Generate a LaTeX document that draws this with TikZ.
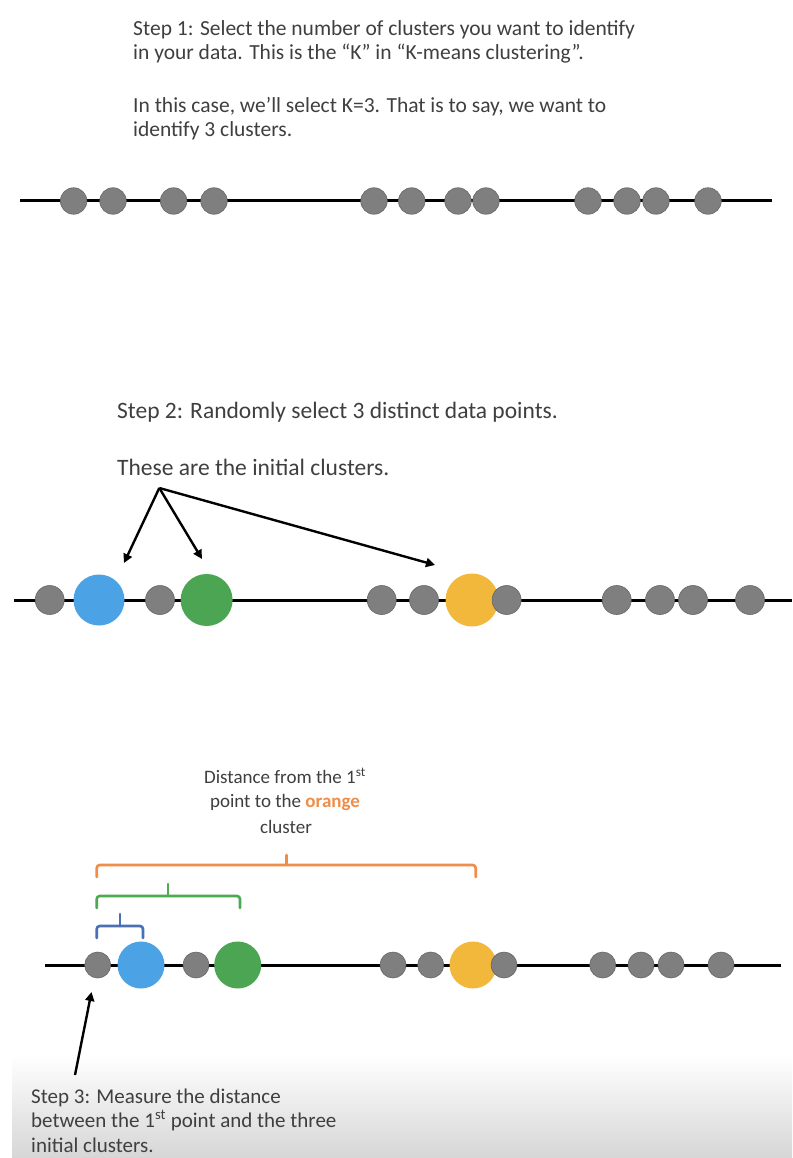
\documentclass[tikz,border=0pt]{standalone}
\usepackage{fontspec}
\setmainfont{Carlito}
\usetikzlibrary{arrows.meta}
\definecolor{txt}{HTML}{3F3F3F}
\definecolor{ptgray}{HTML}{7F7F7F}
\definecolor{ptedge}{HTML}{666666}
\definecolor{cblue}{HTML}{4BA2E4}
\definecolor{cgreen}{HTML}{4BA552}
\definecolor{corange}{HTML}{F2B83C}
\definecolor{borange}{HTML}{EE8E4A}
\definecolor{bgreen}{HTML}{4CAA52}
\definecolor{bblue}{HTML}{4A6FB3}
\definecolor{lbl}{HTML}{EE8E4A}
\definecolor{shadebot}{HTML}{D6D6D6}
\tikzset{
  axis/.style={line width=3pt, black},
  pt/.style={circle, fill=ptgray, draw=ptedge, line width=0.6pt, inner sep=0pt, minimum size=#1},
  pt/.default=26pt,
  clu/.style={circle, fill=#1, draw=none, inner sep=0pt},
  txtnode/.style={anchor=base west, inner sep=0pt, text=txt, font=\fontsize{#1}{22}\selectfont},
  ctrnode/.style={anchor=base, inner sep=0pt, text=txt, font=\fontsize{19}{22}\selectfont},
  arr/.style={line width=2.4pt, black, -{Triangle[length=9pt,width=9pt]}},
  brk/.style={line width=2.6pt, rounded corners=3pt, line cap=round}
}
\begin{document}
\begin{tikzpicture}[x=1pt,y=-1pt]
\useasboundingbox (0,0) rectangle (792,1158);
\fill[white] (0,0) rectangle (792,1158);
\shade[top color=white, bottom color=shadebot] (12,1055) rectangle (792,1158);

% ---------- Step 1 ----------
\node[txtnode=21.5] (s1a) at (133,36) {Step 1: Select the number of clusters you want to identify};
\node[txtnode=21.5] (s1b) at (133,60) {in your data. This is the “K” in “K-means clustering”.};
\node[txtnode=21.5] (s1c) at (133,113) {In this case, we’ll select K=3. That is to say, we want to};
\node[txtnode=21.5] (s1d) at (133,137) {identify 3 clusters.};

\coordinate (L1a) at (20,201);
\coordinate (L1b) at (772,201);
\draw[axis] (L1a) -- (L1b);
\foreach \i/\x in {1/73.6,2/113,3/173.6,4/214,5/374,6/411.7,7/458,8/486,9/588,10/627,11/656,12/708}
  \node[pt=26.5pt] (a\i) at (\x,201) {};

% ---------- Step 2 ----------
\node[txtnode=23.5] (s2a) at (117,418) {Step 2: Randomly select 3 distinct data points.};
\node[txtnode=23.5] (s2b) at (117,475) {These are the initial clusters.};

\coordinate (L2a) at (14,600);
\coordinate (L2b) at (792,600);
\draw[axis] (L2a) -- (L2b);
\node[clu=cblue, minimum size=51pt] (bB) at (99,600) {};
\node[clu=cgreen, minimum size=52pt] (bG) at (206.6,600) {};
\node[clu=corange, minimum size=53pt] (bO) at (472,600) {};
\foreach \i/\x in {1/49.7,2/160,3/381.7,4/424,5/506.6,6/616.7,7/660,8/693,9/750}
  \node[pt=29pt] (b\i) at (\x,600) {};

\coordinate (src) at (159.3,488);
\coordinate (t1) at (124,563);
\coordinate (t2) at (202,559);
\coordinate (t3) at (435,565);
\draw[arr] (src) -- (t1);
\draw[arr] (src) -- (t2);
\draw[arr] (src) -- (t3);

% ---------- Step 3 ----------
\node[ctrnode] (d1) at (285,783) {Distance from the 1\textsuperscript{st}};
\node[ctrnode] (d2) at (285,807) {point to the \textcolor{lbl}{\bfseries orange}};
\node[ctrnode] (d3) at (286,833) {cluster};

\coordinate (L3a) at (45,965);
\coordinate (L3b) at (781,965);
\draw[axis] (L3a) -- (L3b);
\node[clu=cblue, minimum size=47pt] (cB) at (141,965) {};
\node[clu=cgreen, minimum size=47pt] (cG) at (237.7,965) {};
\node[clu=corange, minimum size=47pt] (cO) at (473,965) {};
\foreach \i/\x in {1/97.7,2/196,3/393,4/430.7,5/504,6/602.7,7/641,8/671,9/721}
  \node[pt=26pt] (c\i) at (\x,965) {};

% brackets
\draw[brk, borange] (96.7,877) -- (96.7,865) -- (475.7,865) -- (475.7,877);
\draw[brk, borange] (286.7,865) -- (286.7,855);
\draw[brk, bgreen] (96.7,908) -- (96.7,896) -- (240,896) -- (240,908);
\draw[brk, bgreen] (168,896) -- (168,884);
\draw[brk, bblue] (96.7,938) -- (96.7,926) -- (143,926) -- (143,938);
\draw[brk, bblue] (120,926) -- (120,914);

\coordinate (src3) at (75,1075);
\coordinate (t4) at (91.5,992);
\draw[arr] (src3) -- (t4);

\node[txtnode=21] (s3a) at (31,1103) {Step 3: Measure the distance};
\node[txtnode=21] (s3b) at (31,1127) {between the 1\textsuperscript{st} point and the three};
\node[txtnode=21] (s3c) at (31,1152) {initial clusters.};
\end{tikzpicture}
\end{document}
